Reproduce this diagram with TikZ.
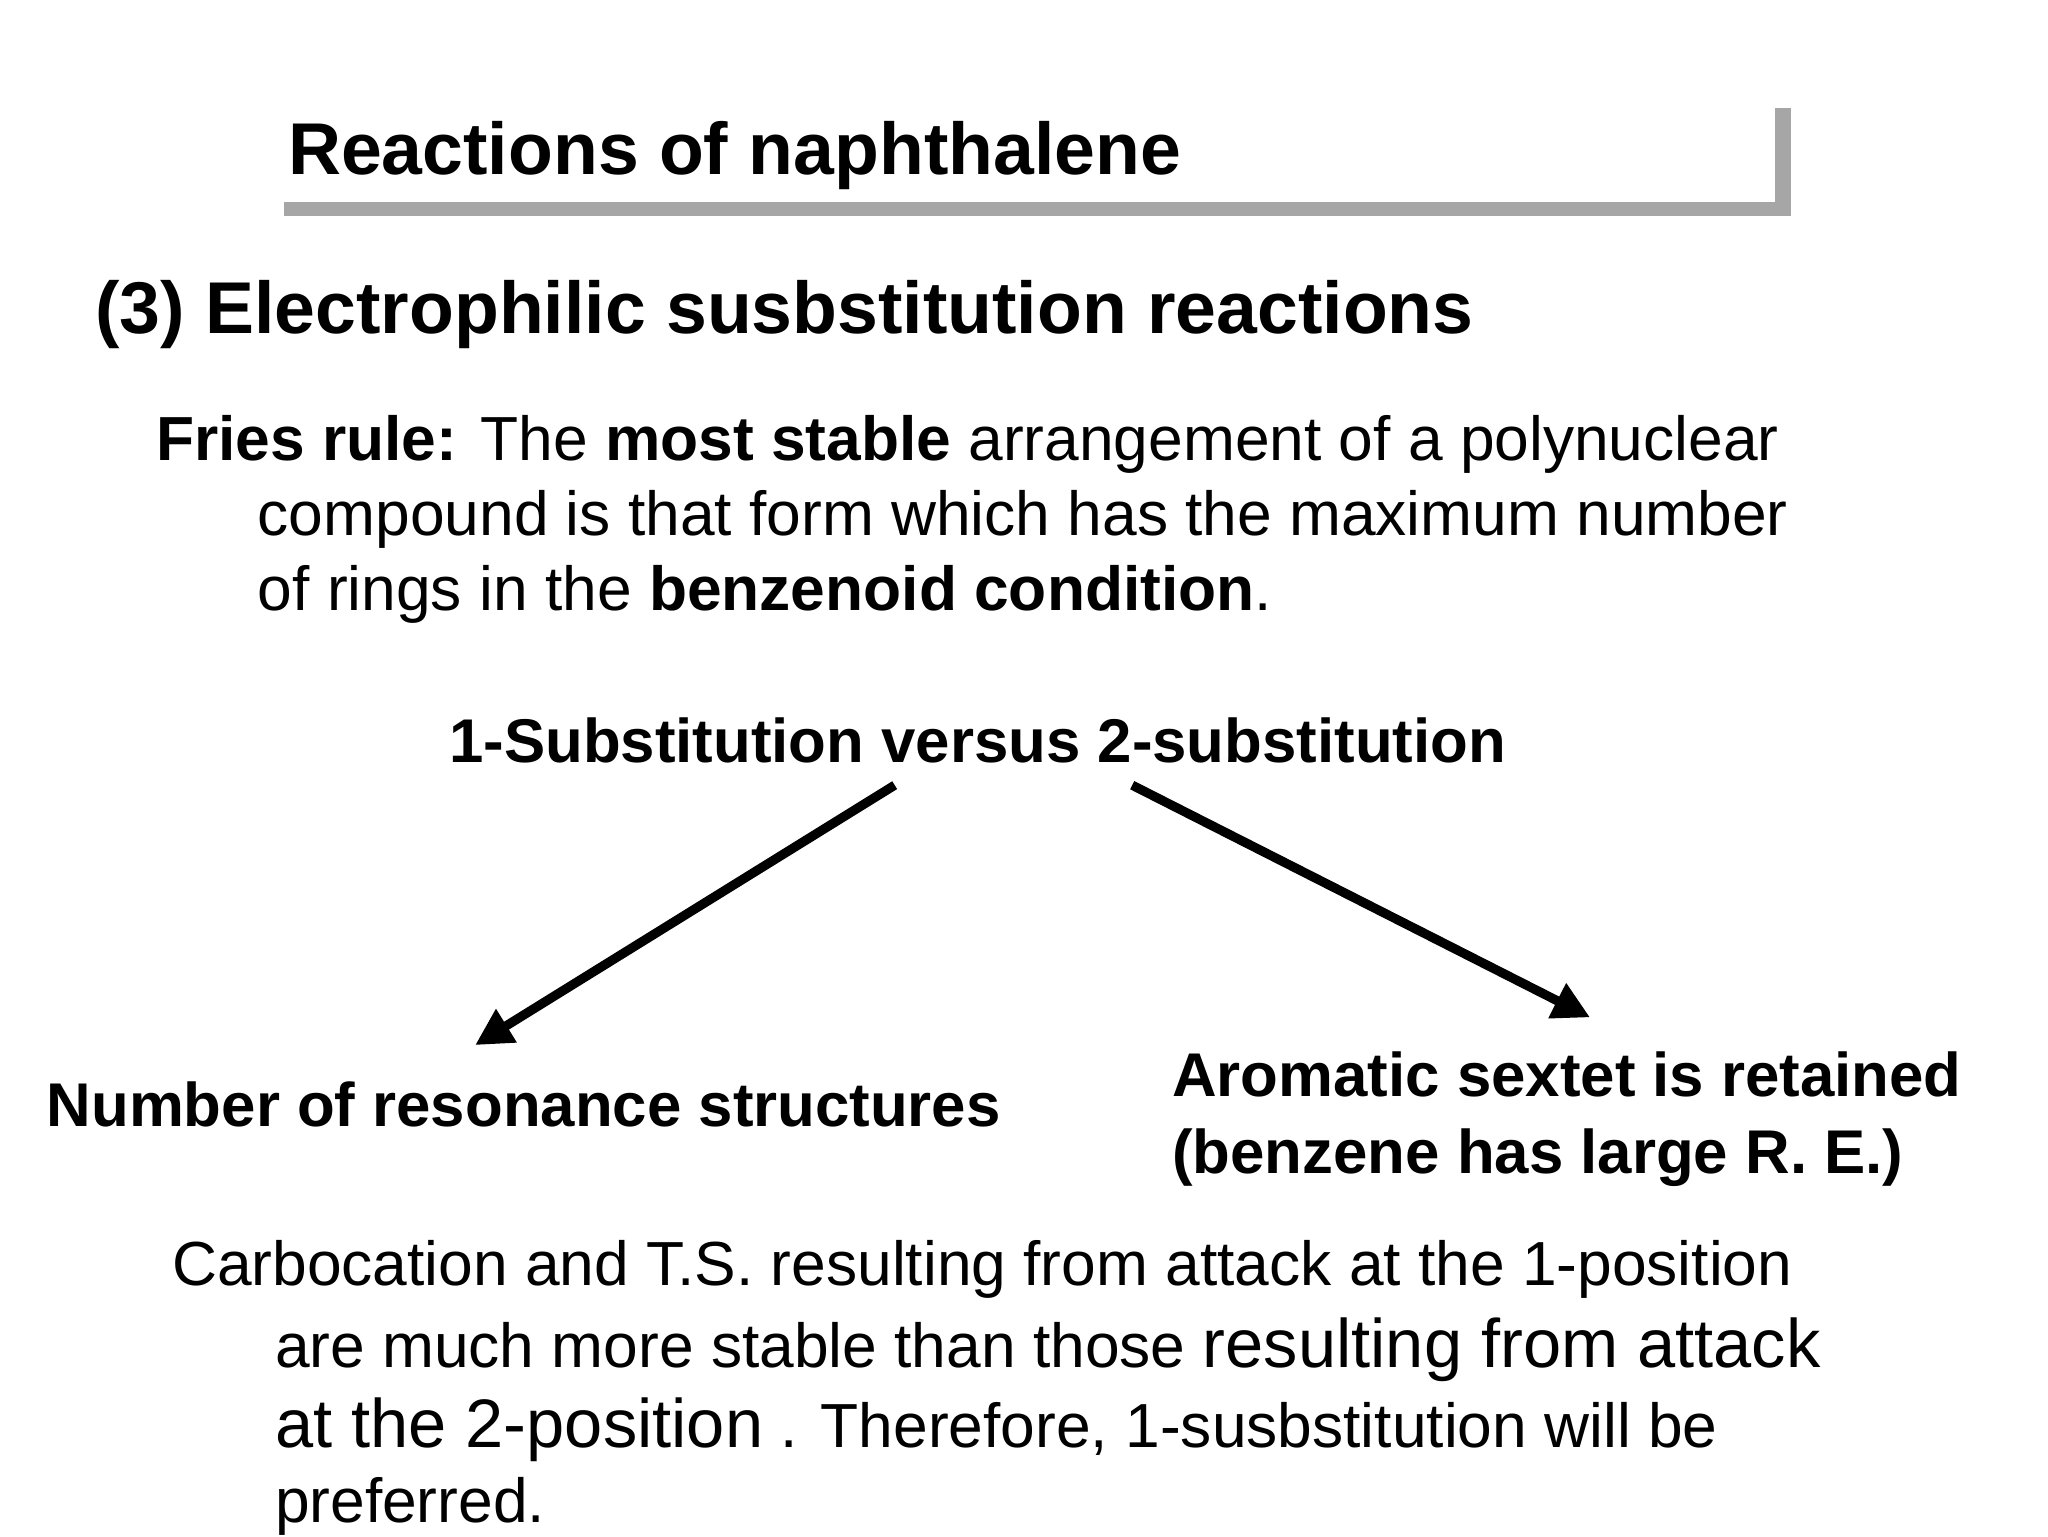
\documentclass[tikz,border=0pt]{standalone}
\usepackage{fontspec}
\setmainfont{Liberation Sans}
\usetikzlibrary{arrows.meta}
\begin{document}
\begin{tikzpicture}[x=0.5pt,y=-0.5pt,
  txt/.style={anchor=base west,inner sep=0pt,font=\fontsize{23.6}{28}\selectfont},
  btxt/.style={txt,font=\fontsize{23.4}{28}\selectfont\bfseries},
  arr/.style={line width=3.5pt,-{Triangle[length=14pt,width=14pt]}}]
\useasboundingbox (0,0) rectangle (1552,1164);
\fill[white] (0,0) rectangle (1552,1164);
\fill[gray!70] (215,153) rectangle (1357,164);
\fill[gray!70] (1345,82) rectangle (1357,164);
\node[txt,font=\fontsize{27.8}{32}\selectfont\bfseries] (title) at (218,132) {Reactions of naphthalene};
\node[txt,font=\fontsize{27.8}{32}\selectfont\bfseries] (head) at (72,253) {(3) Electrophilic susbstitution reactions};
\node[txt] (f1) at (118,349) {\textbf{Fries rule:} The \textbf{most stable} arrangement of a polynuclear};
\node[txt] (f2) at (195,406) {compound is that form which has the maximum number};
\node[txt] (f3) at (195,463) {of rings in the \textbf{benzenoid condition}.};
\node[btxt] (sub) at (340,578) {1-Substitution versus 2-substitution};
\coordinate (a1s) at (678,595); \coordinate (a1e) at (360,792);
\coordinate (a2s) at (858,595); \coordinate (a2e) at (1205,771);
\draw[arr] (a1s) -- (a1e);
\draw[arr] (a2s) -- (a2e);
\node[btxt] (res) at (35,854) {Number of resonance structures};
\node[btxt] (aro1) at (888,831) {Aromatic sextet is retained};
\node[btxt] (aro2) at (888,889) {(benzene has large R. E.)};
\node[txt] (p1) at (130,974) {Carbocation and T.S. resulting from attack at the 1-position};
\node[txt] (p2) at (208,1036) {are much more stable than those {\fontsize{26}{30}\selectfont resulting from attack}};
\node[txt] (p3) at (208,1097) {{\fontsize{26}{30}\selectfont at the 2-position} . Therefore, 1-susbstitution will be};
\node[txt] (p4) at (208,1154) {preferred.};
\end{tikzpicture}
\end{document}
